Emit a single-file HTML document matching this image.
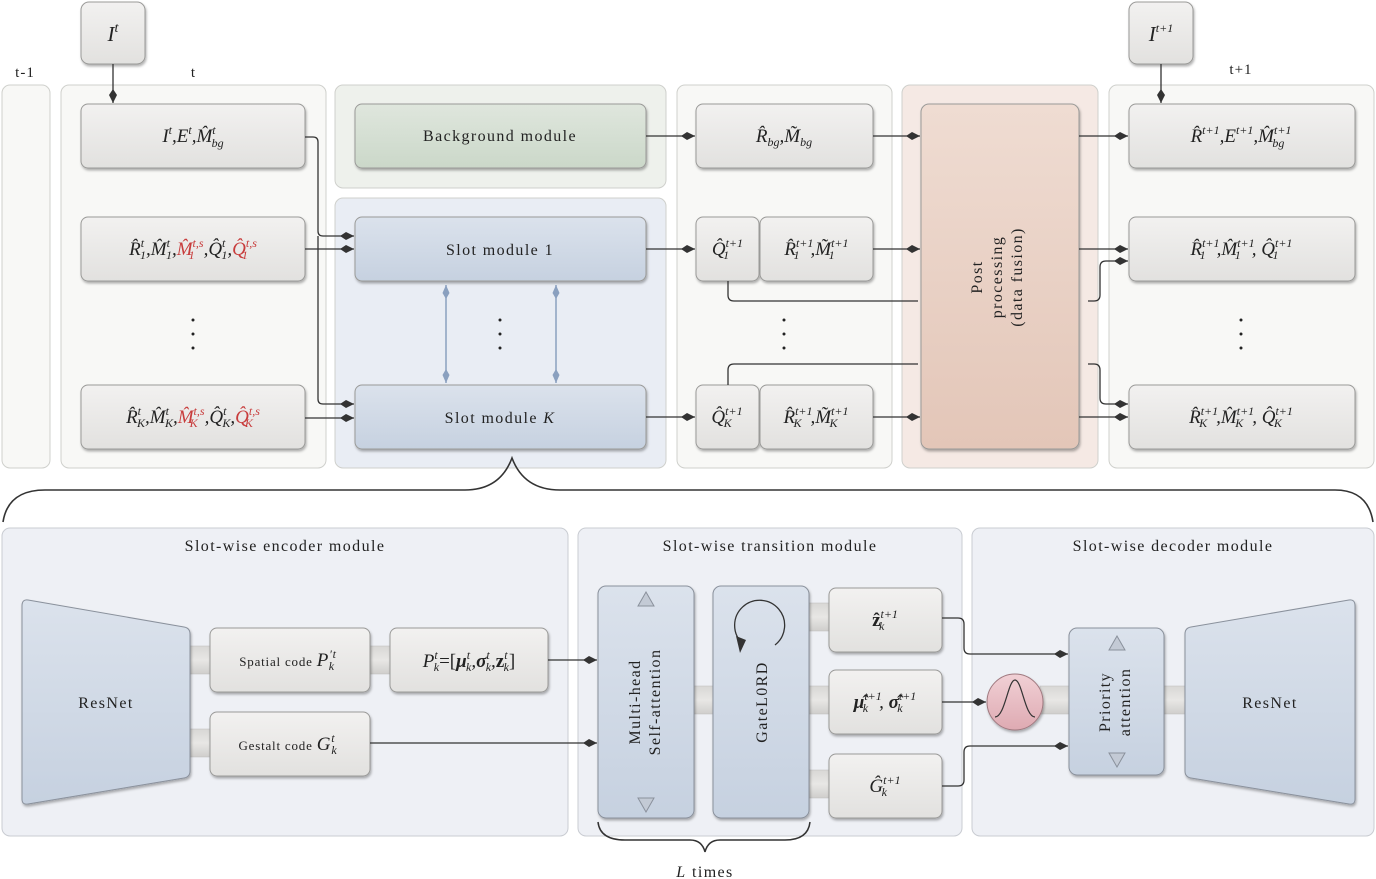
<!DOCTYPE html>
<html><head><meta charset="utf-8"><style>
html,body{margin:0;padding:0;background:#fff;}
svg{display:block;}
text{font-family:"Liberation Serif","DejaVu Serif",serif;fill:#222;}
.lbl{font-size:16px;letter-spacing:1.4px;}
.m{font-size:19px;font-style:italic;}
.s{font-size:12px;font-style:italic;}
.red{fill:#c83c3c;}
</style></head><body>
<svg width="1376" height="879" viewBox="0 0 1376 879" xmlns="http://www.w3.org/2000/svg">
<defs>
<linearGradient id="gray" x1="0" y1="0" x2="0" y2="1"><stop offset="0" stop-color="#f2f1f0"/><stop offset="1" stop-color="#e2e1df"/></linearGradient>
<linearGradient id="blue" x1="0" y1="0" x2="0" y2="1"><stop offset="0" stop-color="#dbe2ec"/><stop offset="1" stop-color="#c6d1e0"/></linearGradient>
<linearGradient id="green" x1="0" y1="0" x2="0" y2="1"><stop offset="0" stop-color="#dfe6dd"/><stop offset="1" stop-color="#cbd8c9"/></linearGradient>
<linearGradient id="orange" x1="0" y1="0" x2="0" y2="1"><stop offset="0" stop-color="#efdcd2"/><stop offset="1" stop-color="#e3c6b8"/></linearGradient>
<linearGradient id="pink" x1="0" y1="0" x2="0" y2="1"><stop offset="0" stop-color="#f1d0d5"/><stop offset="1" stop-color="#deaab2"/></linearGradient>
<linearGradient id="conn" x1="0" y1="0" x2="0" y2="1"><stop offset="0" stop-color="#d8d7d5"/><stop offset=".5" stop-color="#e8e7e5"/><stop offset="1" stop-color="#cfcecc"/></linearGradient>
<filter id="sh" x="-10%" y="-10%" width="130%" height="130%"><feDropShadow dx="1" dy="2" stdDeviation="1.2" flood-color="#000" flood-opacity="0.3"/></filter>
<marker id="ar" markerUnits="userSpaceOnUse" markerWidth="16" markerHeight="10" refX="14" refY="5" orient="auto"><path d="M0,5 L6,1 L14,5 L6,9 Z" fill="#333"/></marker>
<marker id="ab" markerUnits="userSpaceOnUse" markerWidth="16" markerHeight="10" refX="14" refY="5" orient="auto"><path d="M0,5 L6,1.5 L14,5 L6,8.5 Z" fill="#8aa0bf"/></marker>
<marker id="abs" markerUnits="userSpaceOnUse" markerWidth="16" markerHeight="10" refX="0" refY="5" orient="auto"><path d="M14,5 L8,1.5 L0,5 L8,8.5 Z" fill="#8aa0bf"/></marker>
</defs>

<g stroke="#cfd0cc" stroke-width="1">
<rect x="2" y="85" width="48" height="383" rx="8" fill="#f8f8f6"/>
<rect x="61" y="85" width="265" height="383" rx="8" fill="#f8f8f6"/>
<rect x="335" y="85" width="331" height="103" rx="8" fill="#eef1ec"/>
<rect x="335" y="198" width="331" height="270" rx="8" fill="#e9edf4"/>
<rect x="677" y="85" width="215" height="383" rx="8" fill="#f8f8f6"/>
<rect x="902" y="85" width="196" height="383" rx="8" fill="#f5e9e4"/>
<rect x="1109" y="85" width="265" height="383" rx="8" fill="#f8f8f6"/>
</g>
<text x="25" y="77" text-anchor="middle" style="font-size:15px;letter-spacing:1px">t-1</text>
<text x="193" y="77" text-anchor="middle" style="font-size:15px">t</text>
<text x="1241" y="74" text-anchor="middle" style="font-size:15px;letter-spacing:1px">t+1</text>

<g filter="url(#sh)" stroke="#9a9a98" stroke-width="1">
<rect x="81" y="2" width="64" height="62" rx="8" fill="url(#gray)"/>
<rect x="1129" y="2" width="64" height="62" rx="8" fill="url(#gray)"/>
<rect x="81" y="104" width="224" height="64" rx="7" fill="url(#gray)"/>
<rect x="81" y="217" width="224" height="64" rx="7" fill="url(#gray)"/>
<rect x="81" y="385" width="224" height="64" rx="7" fill="url(#gray)"/>
<rect x="355" y="104" width="291" height="64" rx="7" fill="url(#green)"/>
<rect x="355" y="217" width="291" height="64" rx="7" fill="url(#blue)"/>
<rect x="355" y="385" width="291" height="64" rx="7" fill="url(#blue)"/>
<rect x="696" y="104" width="177" height="64" rx="7" fill="url(#gray)"/>
<rect x="696" y="217" width="63" height="64" rx="7" fill="url(#gray)"/>
<rect x="760" y="217" width="113" height="64" rx="7" fill="url(#gray)"/>
<rect x="696" y="385" width="63" height="64" rx="7" fill="url(#gray)"/>
<rect x="760" y="385" width="113" height="64" rx="7" fill="url(#gray)"/>
<rect x="921" y="104" width="158" height="345" rx="8" fill="url(#orange)"/>
<rect x="1129" y="104" width="226" height="64" rx="7" fill="url(#gray)"/>
<rect x="1129" y="217" width="226" height="64" rx="7" fill="url(#gray)"/>
<rect x="1129" y="385" width="226" height="64" rx="7" fill="url(#gray)"/>
</g>

<text x="113" y="41" text-anchor="middle" class="m" style="font-size:21px">I<tspan class="s" dy="-9" style="font-size:14px">t</tspan></text>
<text x="1161" y="41" text-anchor="middle" class="m" style="font-size:21px">I<tspan class="s" dy="-9" style="font-size:12px">t+1</tspan></text>
<text x="193" y="142" text-anchor="middle" class="m">I<tspan class="s" dy="-8">t</tspan><tspan dy="8">,E</tspan><tspan class="s" dy="-8">t</tspan><tspan dy="8">,M̂</tspan><tspan class="s" dy="-8">t</tspan><tspan class="s" dx="-4" dy="13">bg</tspan></text>
<text x="193" y="255" text-anchor="middle" class="m">R̂<tspan class="s" dy="-8">t</tspan><tspan class="s" dx="-4" dy="12">1</tspan><tspan dy="-4">,M̂</tspan><tspan class="s" dy="-8">t</tspan><tspan class="s" dx="-4" dy="12">1</tspan><tspan dy="-4">,</tspan><tspan class="red">M̂</tspan><tspan class="s red" dy="-8">t,s</tspan><tspan class="s red" dx="-15" dy="12">1</tspan><tspan dx="9" dy="-4">,Q̂</tspan><tspan class="s" dy="-8">t</tspan><tspan class="s" dx="-4" dy="12">1</tspan><tspan dy="-4">,</tspan><tspan class="red">Q̂</tspan><tspan class="s red" dy="-8">t,s</tspan><tspan class="s red" dx="-15" dy="12">1</tspan></text>
<text x="193" y="423" text-anchor="middle" class="m">R̂<tspan class="s" dy="-8">t</tspan><tspan class="s" dx="-4" dy="12">K</tspan><tspan dy="-4">,M̂</tspan><tspan class="s" dy="-8">t</tspan><tspan class="s" dx="-4" dy="12">K</tspan><tspan dy="-4">,</tspan><tspan class="red">M̂</tspan><tspan class="s red" dy="-8">t,s</tspan><tspan class="s red" dx="-15" dy="12">K</tspan><tspan dx="7" dy="-4">,Q̂</tspan><tspan class="s" dy="-8">t</tspan><tspan class="s" dx="-4" dy="12">K</tspan><tspan dy="-4">,</tspan><tspan class="red">Q̂</tspan><tspan class="s red" dy="-8">t,s</tspan><tspan class="s red" dx="-15" dy="12">K</tspan></text>
<text x="500" y="141" text-anchor="middle" class="lbl">Background module</text>
<text x="500" y="255" text-anchor="middle" class="lbl">Slot module 1</text>
<text x="500" y="423" text-anchor="middle" class="lbl">Slot module <tspan font-style="italic">K</tspan></text>
<text x="784" y="142" text-anchor="middle" class="m">R̂<tspan class="s" dy="4">bg</tspan><tspan dy="-4">,M̃</tspan><tspan class="s" dy="4">bg</tspan></text>
<text x="727" y="255" text-anchor="middle" class="m">Q̂<tspan class="s" dy="-8">t+1</tspan><tspan class="s" dx="-19" dy="12">1</tspan></text>
<text x="816" y="255" text-anchor="middle" class="m">R̂<tspan class="s" dy="-8">t+1</tspan><tspan class="s" dx="-19" dy="12">1</tspan><tspan dx="11" dy="-4">,M̃</tspan><tspan class="s" dy="-8">t+1</tspan><tspan class="s" dx="-19" dy="12">1</tspan></text>
<text x="727" y="423" text-anchor="middle" class="m">Q̂<tspan class="s" dy="-8">t+1</tspan><tspan class="s" dx="-19" dy="12">K</tspan></text>
<text x="816" y="423" text-anchor="middle" class="m">R̂<tspan class="s" dy="-8">t+1</tspan><tspan class="s" dx="-19" dy="12">K</tspan><tspan dx="9" dy="-4">,M̃</tspan><tspan class="s" dy="-8">t+1</tspan><tspan class="s" dx="-19" dy="12">K</tspan></text>
<text x="1241" y="142" text-anchor="middle" class="m">R̂<tspan class="s" dy="-8">t+1</tspan><tspan dy="8">,E</tspan><tspan class="s" dy="-8">t+1</tspan><tspan dy="8">,M̂</tspan><tspan class="s" dy="-8">t+1</tspan><tspan class="s" dx="-19" dy="13">bg</tspan></text>
<text x="1241" y="255" text-anchor="middle" class="m">R̂<tspan class="s" dy="-8">t+1</tspan><tspan class="s" dx="-19" dy="12">1</tspan><tspan dx="11" dy="-4">,M̂</tspan><tspan class="s" dy="-8">t+1</tspan><tspan class="s" dx="-19" dy="12">1</tspan><tspan dx="11" dy="-4">, Q̂</tspan><tspan class="s" dy="-8">t+1</tspan><tspan class="s" dx="-19" dy="12">1</tspan></text>
<text x="1241" y="423" text-anchor="middle" class="m">R̂<tspan class="s" dy="-8">t+1</tspan><tspan class="s" dx="-19" dy="12">K</tspan><tspan dx="9" dy="-4">,M̂</tspan><tspan class="s" dy="-8">t+1</tspan><tspan class="s" dx="-19" dy="12">K</tspan><tspan dx="9" dy="-4">, Q̂</tspan><tspan class="s" dy="-8">t+1</tspan><tspan class="s" dx="-19" dy="12">K</tspan></text>
<g transform="translate(1000,277) rotate(-90)">
<text x="0" y="-18" text-anchor="middle" class="lbl">Post</text>
<text x="0" y="2" text-anchor="middle" class="lbl">processing</text>
<text x="0" y="22" text-anchor="middle" class="lbl">(data fusion)</text>
</g>
<g fill="#222">
<circle cx="193" cy="320" r="1.5"/><circle cx="193" cy="334" r="1.5"/><circle cx="193" cy="348" r="1.5"/>
<circle cx="500" cy="320" r="1.5"/><circle cx="500" cy="334" r="1.5"/><circle cx="500" cy="348" r="1.5"/>
<circle cx="784" cy="320" r="1.5"/><circle cx="784" cy="334" r="1.5"/><circle cx="784" cy="348" r="1.5"/>
<circle cx="1241" cy="320" r="1.5"/><circle cx="1241" cy="334" r="1.5"/><circle cx="1241" cy="348" r="1.5"/>
</g>

<g stroke="#333" stroke-width="1.3" fill="none" marker-end="url(#ar)">
<path d="M113,64 V103"/>
<path d="M1161,64 V103"/>
<path d="M305,137 H313 Q318,137 318,142 V231 Q318,236 323,236 H354"/>
<path d="M318,236 V399 Q318,404 323,404 H354"/>
<path d="M305,249 H354"/>
<path d="M305,418 H354"/>
<path d="M646,136 H695"/>
<path d="M646,249 H695"/>
<path d="M646,417 H695"/>
<path d="M873,136 H920"/>
<path d="M873,249 H920"/>
<path d="M873,417 H920"/>
<path d="M1079,136 H1128"/>
<path d="M1079,249 H1128"/>
<path d="M1079,417 H1128"/>
<path d="M1088,301 H1094 Q1100,301 1100,295 V267 Q1100,261 1106,261 H1128"/>
<path d="M1088,364 H1094 Q1100,364 1100,370 V398 Q1100,404 1106,404 H1128"/>
</g>
<g stroke="#333" stroke-width="1.3" fill="none">
<path d="M728,281 V295 Q728,301 734,301 H918"/>
<path d="M728,385 V370 Q728,364 734,364 H918"/>
</g>
<g stroke="#8aa0bf" stroke-width="1.5" marker-end="url(#ab)" marker-start="url(#abs)">
<path d="M446,285 V383"/>
<path d="M556,285 V383"/>
</g>

<path d="M3,522 Q8,490 45,490 H465 Q500,490 512,458 Q524,490 560,490 H1335 Q1368,490 1373,522" stroke="#333" stroke-width="1.6" fill="none"/>

<g stroke="#c9ccd2" stroke-width="1">
<rect x="2" y="528" width="566" height="308" rx="8" fill="#eef0f5"/>
<rect x="578" y="528" width="384" height="308" rx="8" fill="#eef0f5"/>
<rect x="972" y="528" width="402" height="308" rx="8" fill="#eef0f5"/>
</g>
<text x="285" y="551" text-anchor="middle" class="lbl">Slot-wise encoder module</text>
<text x="770" y="551" text-anchor="middle" class="lbl">Slot-wise transition module</text>
<text x="1173" y="551" text-anchor="middle" class="lbl">Slot-wise decoder module</text>

<g fill="url(#conn)" stroke="#bbb" stroke-width="0.5">
<rect x="190" y="646" width="20" height="28"/>
<rect x="190" y="729" width="20" height="28"/>
<rect x="370" y="646" width="20" height="28"/>
<rect x="694" y="686" width="19" height="28"/>
<rect x="809" y="603" width="20" height="28"/>
<rect x="809" y="686" width="20" height="28"/>
<rect x="809" y="770" width="20" height="28"/>
<rect x="1040" y="686" width="29" height="28"/>
<rect x="1164" y="686" width="21" height="28"/>
</g>

<g filter="url(#sh)" stroke="#8a919c" stroke-width="1">
<path d="M28,600 L184,627 Q190,628 190,634 V771 Q190,777 184,778 L28,804 Q22,805 22,799 V606 Q22,599 28,600 Z" fill="url(#blue)"/>
<path d="M1349,600 L1191,627 Q1185,628 1185,634 V771 Q1185,777 1191,778 L1349,804 Q1355,805 1355,799 V606 Q1355,599 1349,600 Z" fill="url(#blue)"/>
<rect x="210" y="628" width="160" height="64" rx="7" fill="url(#gray)" stroke="#9a9a98"/>
<rect x="390" y="628" width="158" height="64" rx="7" fill="url(#gray)" stroke="#9a9a98"/>
<rect x="210" y="712" width="160" height="64" rx="7" fill="url(#gray)" stroke="#9a9a98"/>
<rect x="598" y="586" width="96" height="232" rx="8" fill="url(#blue)"/>
<rect x="713" y="586" width="96" height="232" rx="8" fill="url(#blue)"/>
<rect x="829" y="588" width="113" height="64" rx="7" fill="url(#gray)" stroke="#9a9a98"/>
<rect x="829" y="670" width="113" height="64" rx="7" fill="url(#gray)" stroke="#9a9a98"/>
<rect x="829" y="754" width="113" height="64" rx="7" fill="url(#gray)" stroke="#9a9a98"/>
<rect x="1069" y="628" width="95" height="147" rx="8" fill="url(#blue)"/>
<circle cx="1015" cy="702" r="28" fill="url(#pink)" stroke="#a07a80"/>
</g>
<path d="M995,717 C1005,717 1008,680 1015,680 C1022,680 1025,717 1035,717" stroke="#333" stroke-width="1.2" fill="none"/>

<text x="106" y="708" text-anchor="middle" class="lbl">ResNet</text>
<text x="1270" y="708" text-anchor="middle" class="lbl">ResNet</text>
<text x="288" y="666" text-anchor="middle" style="font-size:13px;letter-spacing:0.8px">Spatial code <tspan class="m">P</tspan><tspan class="s" dy="-8">′t</tspan><tspan class="s" dx="-8" dy="12">k</tspan></text>
<text x="288" y="750" text-anchor="middle" style="font-size:13px;letter-spacing:0.8px">Gestalt code <tspan class="m">G</tspan><tspan class="s" dy="-8">t</tspan><tspan class="s" dx="-4" dy="12">k</tspan></text>
<text x="469" y="667" text-anchor="middle" class="m">P<tspan class="s" dy="-8">t</tspan><tspan class="s" dx="-4" dy="12">k</tspan><tspan dy="-4" font-style="normal">=[</tspan><tspan font-weight="bold">μ</tspan><tspan class="s" dy="-8">t</tspan><tspan class="s" dx="-4" dy="12">k</tspan><tspan dy="-4">,</tspan><tspan font-weight="bold">σ</tspan><tspan class="s" dy="-8">t</tspan><tspan class="s" dx="-4" dy="12">k</tspan><tspan dy="-4">,</tspan><tspan font-weight="bold" font-style="normal">z</tspan><tspan class="s" dy="-8">t</tspan><tspan class="s" dx="-4" dy="12">k</tspan><tspan dy="-4" font-style="normal">]</tspan></text>
<text x="885" y="626" text-anchor="middle" class="m"><tspan font-weight="bold" font-style="normal">ẑ</tspan><tspan class="s" dy="-8">t+1</tspan><tspan class="s" dx="-19" dy="12">k</tspan></text>
<text x="885" y="708" text-anchor="middle" class="m"><tspan font-weight="bold">μ̂</tspan><tspan class="s" dy="-8">t+1</tspan><tspan class="s" dx="-19" dy="12">k</tspan><tspan dx="11" dy="-4">, </tspan><tspan font-weight="bold">σ̂</tspan><tspan class="s" dy="-8">t+1</tspan><tspan class="s" dx="-19" dy="12">k</tspan></text>
<text x="885" y="792" text-anchor="middle" class="m">Ĝ<tspan class="s" dy="-8">t+1</tspan><tspan class="s" dx="-19" dy="12">k</tspan></text>

<g transform="translate(646,702) rotate(-90)">
<text x="0" y="-6" text-anchor="middle" class="lbl">Multi-head</text>
<text x="0" y="14" text-anchor="middle" class="lbl">Self-attention</text>
</g>
<g transform="translate(761,702) rotate(-90)"><text x="0" y="6" text-anchor="middle" class="lbl">GateL0RD</text></g>
<g transform="translate(1116,702) rotate(-90)">
<text x="0" y="-6" text-anchor="middle" class="lbl">Priority</text>
<text x="0" y="14" text-anchor="middle" class="lbl">attention</text>
</g>
<g fill="#c3cad5" stroke="#8a919c" stroke-width="1">
<path d="M638,606 L646,592 L654,606 Z"/>
<path d="M638,798 L646,812 L654,798 Z"/>
<path d="M1109,650 L1117,636 L1125,650 Z"/>
<path d="M1109,753 L1117,767 L1125,753 Z"/>
</g>
<path d="M775,645 A25,25 0 1 0 742,643" stroke="#333" stroke-width="1.3" fill="none"/>
<path d="M736,636 L746,640 L740,653 Z" fill="#333"/>

<g stroke="#333" stroke-width="1.3" fill="none" marker-end="url(#ar)">
<path d="M548,660 H597"/>
<path d="M370,743 H597"/>
<path d="M942,618 H958 Q964,618 964,624 V648 Q964,654 970,654 H1068"/>
<path d="M942,702 H986"/>
<path d="M942,786 H958 Q964,786 964,780 V752 Q964,746 970,746 H1068"/>
</g>

<path d="M598,822 Q600,840 625,840 H690 Q702,840 705,852 Q708,840 720,840 H785 Q808,840 810,822" stroke="#333" stroke-width="1.5" fill="none"/>
<text x="705" y="877" text-anchor="middle" class="lbl"><tspan font-style="italic">L</tspan> times</text>
</svg>
</body></html>
